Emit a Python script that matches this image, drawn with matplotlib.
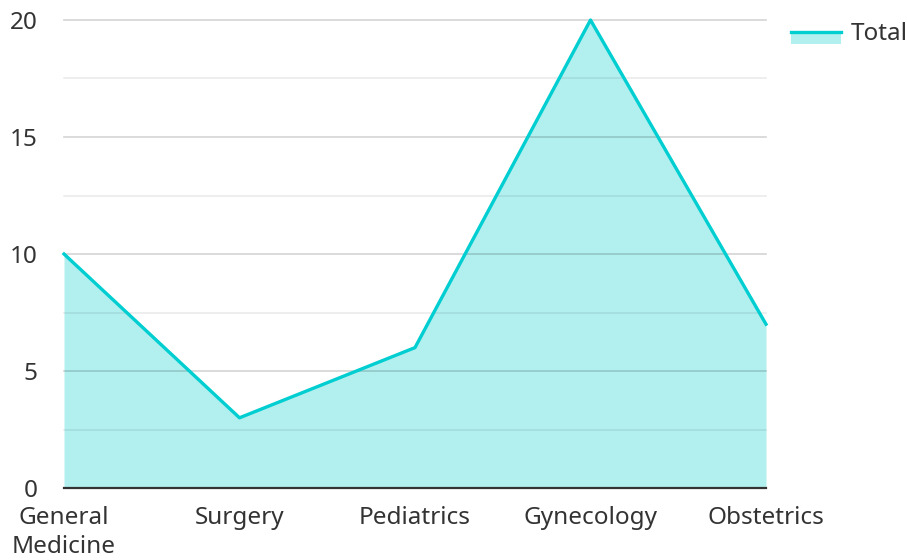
import matplotlib
matplotlib.use("Agg")
import matplotlib.pyplot as plt
from matplotlib.patches import Rectangle
from matplotlib.lines import Line2D
from matplotlib.ticker import MultipleLocator

plt.rcParams['font.family'] = ['Noto Sans', 'DejaVu Sans']

departments = ['General\nMedicine', 'Surgery', 'Pediatrics', 'Gynecology', 'Obstetrics']
totals = [10, 3, 6, 20, 7]
series_name = 'Total'

line_color = '#00CED1'
fill_color = '#B2EFEF'
text_color = '#333333'

fig = plt.figure(figsize=(9.07, 5.6), dpi=100)
ax = fig.add_axes([64 / 907, 72 / 560, 702 / 907, 468 / 560])

x = list(range(len(departments)))
ax.fill_between(x, totals, 0, color=fill_color, lw=0, zorder=1)
ax.plot(x, totals, color=line_color, lw=2.4, zorder=3, clip_on=False)

ax.set_xlim(0, len(departments) - 1)
ax.set_ylim(0, 20)
ax.yaxis.set_major_locator(MultipleLocator(5))
ax.yaxis.set_minor_locator(MultipleLocator(2.5))
ax.grid(axis='y', which='major', color='black', alpha=0.17, lw=1.2, zorder=2)
ax.grid(axis='y', which='minor', color='black', alpha=0.08, lw=1.2, zorder=2)
ax.set_axisbelow(False)
for tick in ax.yaxis.get_major_ticks() + ax.yaxis.get_minor_ticks():
    tick.gridline.set_clip_on(False)

ax.set_xticks(x)
ax.set_xticklabels(departments, fontsize=17.5, color=text_color, linespacing=1.25)
ax.tick_params(axis='x', length=0, pad=13)
ax.tick_params(axis='y', which='both', length=0, pad=19, labelsize=17.5, labelcolor=text_color)

for side in ['top', 'right', 'left']:
    ax.spines[side].set_visible(False)
ax.spines['bottom'].set_color('#333333')
ax.spines['bottom'].set_linewidth(1.6)
ax.spines['bottom'].set_zorder(4)

# legend: filled swatch with line along its top edge
fig.add_artist(Rectangle((791 / 907, 1 - 44 / 560), 50 / 907, 13 / 560,
                         transform=fig.transFigure, color=fill_color, lw=0))
fig.add_artist(Line2D([791 / 907, 841 / 907], [1 - 32 / 560, 1 - 32 / 560],
                      transform=fig.transFigure, color=line_color, lw=2.4))
fig.text(851 / 907, 1 - 34 / 560, series_name, fontsize=17.5, color=text_color,
         ha='left', va='center')

fig.savefig('out.png', dpi=100)
